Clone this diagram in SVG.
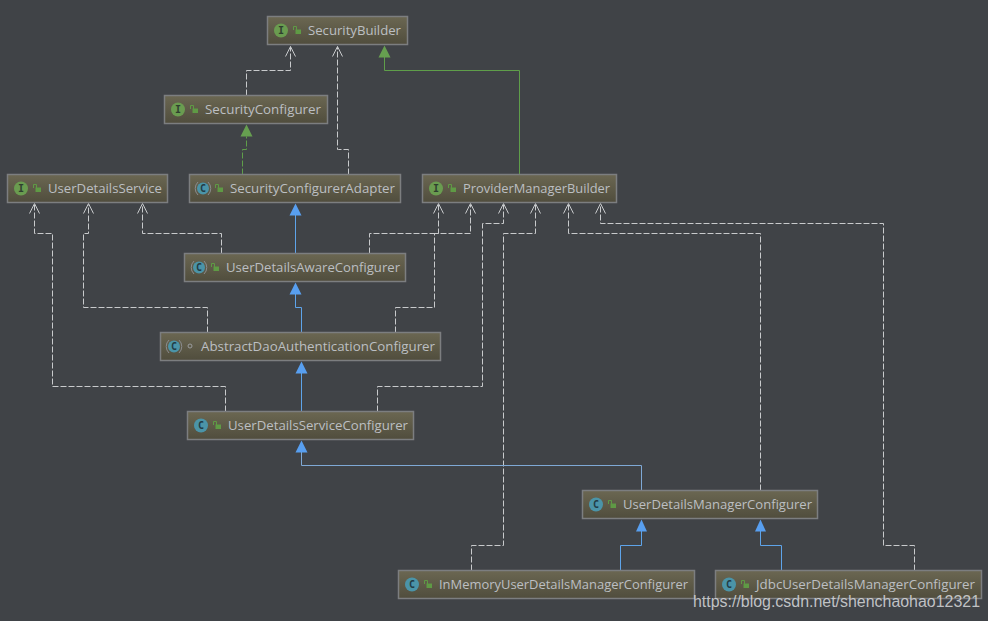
<svg xmlns="http://www.w3.org/2000/svg" width="988" height="621" viewBox="0 0 988 621">
<style>
.box{fill:url(#nodeFill);stroke:#7c7e80;stroke-width:1.5}
.lbl{font-family:"Open Sans","DejaVu Sans",sans-serif;font-size:13px;fill:#bcbfc2}
.ic{font-family:"DejaVu Sans Mono","Liberation Mono",monospace;font-size:10px;font-weight:bold;text-anchor:middle;fill:#2f3f2f}
.cc{fill:#223c46}
.gi{fill:#6a9c50}
.ti{fill:#4b94a8}
.par{fill:none;stroke:#8b8d8f;stroke-width:1}
.lk{fill:#5f9a45}
.lks{fill:none;stroke:#5f9a45;stroke-width:1}
.d{fill:none;stroke:#c8cacc;stroke-width:1;stroke-dasharray:6 2}
.o{fill:none;stroke:#c8cacc;stroke-width:1}
.gr{fill:none;stroke:#5f9e4a;stroke-width:1}
.grd{fill:none;stroke:#5f9e4a;stroke-width:1;stroke-dasharray:6 2}
.bl{fill:none;stroke:#5ea4ea;stroke-width:1}
.bg{fill:none;stroke:#7fa9d6;stroke-width:1}
.tg{fill:#669f50}
.tb{fill:#589ff0}
.wm{font-family:"Liberation Sans",Arial,sans-serif;font-size:16px;fill:#d8dadc;fill-opacity:.85}
</style>
<defs>
<linearGradient id="nodeFill" x1="0" y1="0" x2="0" y2="1"><stop offset="0" stop-color="#6b6752"/><stop offset="1" stop-color="#504d3d"/></linearGradient>
<g id="lock"><path class="lks" d="M0.5 4V0.500H3.500V4"/><rect class="lk" x="2.500" y="3.500" width="5.500" height="4.500"/></g>
</defs>
<rect width="988" height="621" fill="#404347"/>
<g id="connectors" transform="translate(.5 .5)">
<path class="d" d="M246 95V70H290V46"/>
<path class="o" d="M285 56L290 46L295 56"/>
<path class="d" d="M348 174V149H338V149H337V46"/>
<path class="o" d="M332 56L337 46L342 56"/>
<path class="gr" d="M519 174V70H384V56"/>
<polygon class="tg" points="384,45 378,57 390,57"/>
<path class="grd" d="M242 174V149H246V136"/>
<polygon class="tg" points="246,124 240,136 252,136"/>
<path class="bl" d="M295 253V214"/>
<polygon class="tb" points="295,203 289,215 301,215"/>
<path class="d" d="M221 253V233H142V204"/>
<path class="o" d="M137 213L142 203L147 213"/>
<path class="d" d="M207 332V307H83V233H88V204"/>
<path class="o" d="M83 213L88 203L93 213"/>
<path class="d" d="M225 411V386H52V233H34V204"/>
<path class="o" d="M29 213L34 203L39 213"/>
<path class="d" d="M369 253V233H438V204"/>
<path class="o" d="M433 213L438 203L443 213"/>
<path class="d" d="M395 332V307H434V233H470V204"/>
<path class="o" d="M465 213L470 203L475 213"/>
<path class="d" d="M377 411V386H482V223H503V204"/>
<path class="o" d="M498 213L503 203L508 213"/>
<path class="d" d="M471 570V545H503V233H535V204"/>
<path class="o" d="M530 213L535 203L540 213"/>
<path class="d" d="M760 490V233H568V204"/>
<path class="o" d="M563 213L568 203L573 213"/>
<path class="d" d="M914 570V545H883V223H600V204"/>
<path class="o" d="M595 213L600 203L605 213"/>
<path class="bl" d="M301 332V307H295V293"/>
<polygon class="tb" points="295,282 289,294 301,294"/>
<path class="bl" d="M301 411V372"/>
<polygon class="tb" points="301,361 295,373 307,373"/>
<path class="bg" d="M641 490V465H301V451"/>
<polygon class="tb" points="301,440 295,452 307,452"/>
<path class="bl" d="M620 570V545H641V530"/>
<polygon class="tb" points="641,519 635.500,531 646.500,531"/>
<path class="bl" d="M781 570V545H760V530"/>
<polygon class="tb" points="760,519 754.500,531 765.500,531"/>
</g>
<g id="SecurityBuilder"><rect class="box" x="267.500" y="16.500" width="140" height="28"/><circle class="gi" cx="281" cy="30.500" r="7"/><text class="ic" x="281" y="34">I</text><use href="#lock" x="293" y="26"/><text class="lbl" x="308" y="35" textLength="93" lengthAdjust="spacingAndGlyphs">SecurityBuilder</text></g>
<g id="SecurityConfigurer"><rect class="box" x="164.500" y="95.500" width="163" height="28"/><circle class="gi" cx="178" cy="109.500" r="7"/><text class="ic" x="178" y="113">I</text><use href="#lock" x="190" y="105"/><text class="lbl" x="205" y="114" textLength="116" lengthAdjust="spacingAndGlyphs">SecurityConfigurer</text></g>
<g id="SecurityConfigurerAdapter"><rect class="box" x="189.500" y="174.500" width="211" height="28"/><circle class="ti" cx="203" cy="188.500" r="6"/><path class="par" d="M198 182a9 9 0 0 0 0 13M208 182a9 9 0 0 1 0 13"/><text class="ic cc" x="203" y="192">C</text><use href="#lock" x="215" y="184"/><text class="lbl" x="230" y="193" textLength="165" lengthAdjust="spacingAndGlyphs">SecurityConfigurerAdapter</text></g>
<g id="UserDetailsService"><rect class="box" x="7.500" y="174.500" width="160" height="28"/><circle class="gi" cx="21" cy="188.500" r="7"/><text class="ic" x="21" y="192">I</text><use href="#lock" x="33" y="184"/><text class="lbl" x="48" y="193" textLength="114" lengthAdjust="spacingAndGlyphs">UserDetailsService</text></g>
<g id="ProviderManagerBuilder"><rect class="box" x="422.500" y="174.500" width="194" height="28"/><circle class="gi" cx="436" cy="188.500" r="7"/><text class="ic" x="436" y="192">I</text><use href="#lock" x="448" y="184"/><text class="lbl" x="463" y="193" textLength="147" lengthAdjust="spacingAndGlyphs">ProviderManagerBuilder</text></g>
<g id="UserDetailsAwareConfigurer"><rect class="box" x="184.500" y="253.500" width="221" height="28"/><circle class="ti" cx="199" cy="267.500" r="6"/><path class="par" d="M194 261a9 9 0 0 0 0 13M204 261a9 9 0 0 1 0 13"/><text class="ic cc" x="199" y="271">C</text><use href="#lock" x="211" y="263"/><text class="lbl" x="226" y="272" textLength="174" lengthAdjust="spacingAndGlyphs">UserDetailsAwareConfigurer</text></g>
<g id="AbstractDaoAuthenticationConfigurer"><rect class="box" x="160.500" y="332.500" width="280" height="28"/><circle class="ti" cx="174" cy="346.500" r="6"/><path class="par" d="M169 340a9 9 0 0 0 0 13M179 340a9 9 0 0 1 0 13"/><text class="ic cc" x="174" y="350">C</text><circle cx="190" cy="346" r="2" fill="none" stroke="#9a9c9e"/><text class="lbl" x="201" y="351" textLength="234" lengthAdjust="spacingAndGlyphs">AbstractDaoAuthenticationConfigurer</text></g>
<g id="UserDetailsServiceConfigurer"><rect class="box" x="187.500" y="411.500" width="226" height="28"/><circle class="ti" cx="201" cy="425.500" r="7"/><text class="ic cc" x="201" y="429">C</text><use href="#lock" x="213" y="421"/><text class="lbl" x="228" y="430" textLength="180" lengthAdjust="spacingAndGlyphs">UserDetailsServiceConfigurer</text></g>
<g id="UserDetailsManagerConfigurer"><rect class="box" x="582.500" y="490.500" width="235" height="28"/><circle class="ti" cx="596" cy="504.500" r="7"/><text class="ic cc" x="596" y="508">C</text><use href="#lock" x="608" y="500"/><text class="lbl" x="623" y="509" textLength="189" lengthAdjust="spacingAndGlyphs">UserDetailsManagerConfigurer</text></g>
<g id="InMemoryUserDetailsManagerConfigurer"><rect class="box" x="398.500" y="570.500" width="296" height="28"/><circle class="ti" cx="412" cy="584.500" r="7"/><text class="ic cc" x="412" y="588">C</text><use href="#lock" x="424" y="580"/><text class="lbl" x="439" y="589" textLength="249" lengthAdjust="spacingAndGlyphs">InMemoryUserDetailsManagerConfigurer</text></g>
<g id="JdbcUserDetailsManagerConfigurer"><rect class="box" x="715.500" y="570.500" width="266" height="28"/><circle class="ti" cx="729" cy="584.500" r="7"/><text class="ic cc" x="729" y="588">C</text><use href="#lock" x="741" y="580"/><text class="lbl" x="756" y="589" textLength="219" lengthAdjust="spacingAndGlyphs">JdbcUserDetailsManagerConfigurer</text></g>
<text class="wm" x="693" y="607" textLength="287" lengthAdjust="spacingAndGlyphs">https://blog.csdn.net/shenchaohao12321</text>
</svg>
